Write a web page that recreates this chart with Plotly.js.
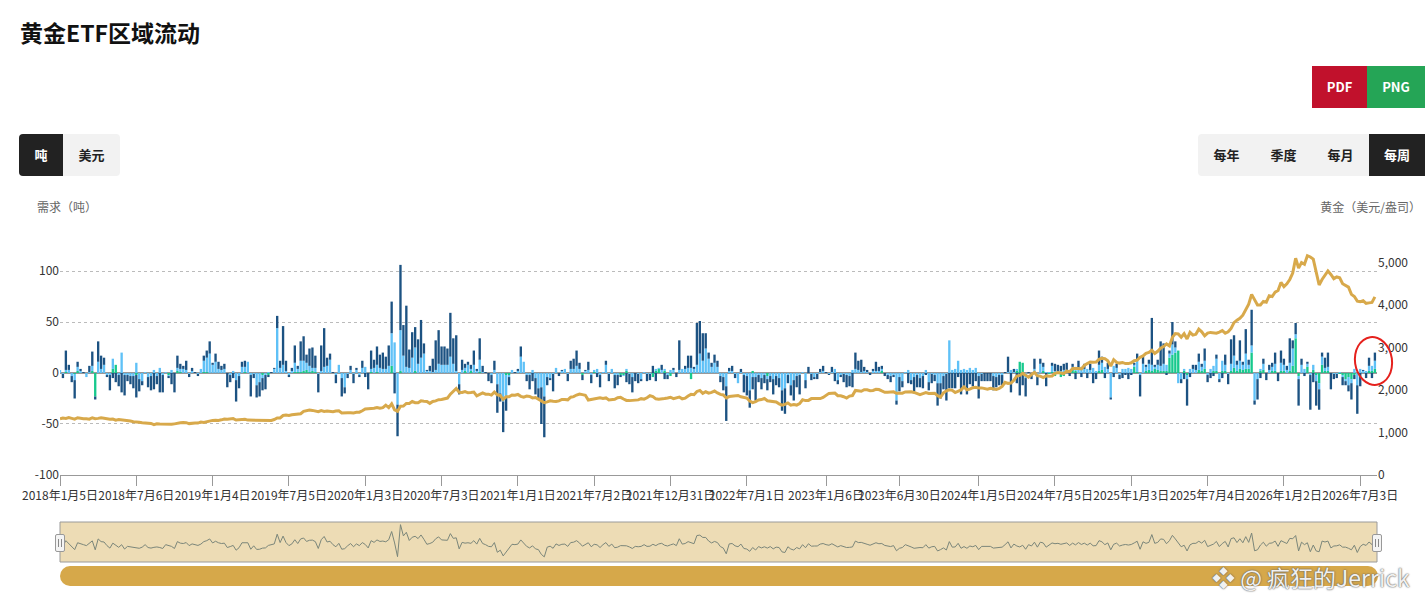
<!DOCTYPE html>
<html>
<head>
<meta charset="utf-8">
<script src="https://cdn.plot.ly/plotly-3.0.1.min.js"></script>
<style>
body{margin:0;background:#fff;font-family:"Noto Sans CJK SC","Noto Sans",sans-serif;}
#wrap{position:relative;width:1425px;height:603px;overflow:hidden;background:#fff;}
#chart{position:absolute;left:0;top:0;width:1425px;height:603px;}
.ov{position:absolute;}
.title{left:20px;top:15px;font-size:23px;font-weight:bold;color:#111;}
.btn{height:42px;line-height:42px;text-align:center;font-size:13px;font-weight:bold;}
.light{background:#f2f2f2;color:#222;}
.dark{background:#222;color:#fff;}
.axt{top:198px;font-size:12px;color:#666;}
.handle{width:8px;height:16px;background:#f4f4f4;border:1px solid #999;border-radius:2px;top:534px;}
.handle:before{content:"";position:absolute;left:2px;top:4px;width:1px;height:8px;background:#888;}
.handle:after{content:"";position:absolute;left:5px;top:4px;width:1px;height:8px;background:#888;}
.wm{left:1212px;top:560px;font-size:23px;color:rgba(255,255,255,0.92);text-shadow:0 0 2px #666,0 0 1px #555;white-space:nowrap;}
</style>
</head>
<body>
<div id="wrap">
<div id="chart"></div>
<div class="ov title">黄金ETF区域流动</div>
<div class="ov btn" style="left:1312px;top:66px;width:55px;background:#c1112c;color:#fff;">PDF</div>
<div class="ov btn" style="left:1367px;top:66px;width:58px;background:#25a556;color:#fff;">PNG</div>
<div class="ov btn dark" style="left:19px;top:134px;width:44px;border-radius:4px 0 0 4px;">吨</div>
<div class="ov btn light" style="left:63px;top:134px;width:57px;border-radius:0 4px 4px 0;">美元</div>
<div class="ov btn light" style="left:1198px;top:134px;width:57px;border-radius:4px 0 0 4px;">每年</div>
<div class="ov btn light" style="left:1255px;top:134px;width:57px;">季度</div>
<div class="ov btn light" style="left:1312px;top:134px;width:57px;">每月</div>
<div class="ov btn dark" style="left:1369px;top:134px;width:56px;">每周</div>
<div class="ov axt" style="left:37px;">需求（吨）</div>
<div class="ov axt" style="right:4px;">黄金（美元/盎司）</div>
<div class="ov" style="left:60px;top:566px;width:1318px;height:20px;background:#d6a84a;border-radius:10px;"></div>
<div class="ov handle" style="left:55px;"></div>
<div class="ov handle" style="left:1372px;"></div>
<div class="ov" style="left:1354px;top:336px;width:35px;height:46px;border:2.5px solid #e5211d;border-radius:50%;transform:rotate(-8deg);"></div>
<div class="ov wm">❖ @ 疯狂的Jerrick</div>
</div>
<script>
// weekly flows (tonnes), first week 2018-01-05
const firstWeek = '2018-01-05';
const naFlows = [
0,-4,19,5,-6,-18,5,2,1,0, 6,14,-3,20,13,7,-2,-15,-5,-9, -11,-19,-20,-6,-8,-12,-22,-12,-4,0, -10,-14,-16,-8,-19,-17,0,-2,-11,-19,
12,5,3,9,-3,3,1,-2,0,5, 7,12,2,8,7,4,5,-14,-7,-5, -21,-12,5,6,0,-21,-4,-12,-14,-12, -14,-2,1,1,12,7,38,10,-2,3,
17,3,19,24,8,17,20,12,-18,25, 38,8,6,1,-8,0,-18,-6,-4,4, -9,2,-2,7,-4,-16,18,8,18,13, 16,12,20,
31,-20,-31,64,30,60,18,25,20,24, 37,10,1,5,13,29,33,18,18,16, 43,25,35,-10,10,4,3,4,14,2, 21,6,1,-8,-8,9,-28,-8,-30,-14,
-8,0,1,2,10,0,-6,-14,-8,-16, -10,-36,-40,-8,-2,-17,0,-3,1,0, -7,8,10,15,6,-5,1,8,-8,0, -4,-12,0,4,-7,0,-13,-10,-2,0,
-9,-10,-15,-8,-9,-2,0,-7,-6,7, -8,0,5,-6,-4,0,2,-4,29,0, 3,12,12,2,41,32,27,15,6,4, 8,6,
-6,-13,-34,3,5,-4,0,3,-17,-19, -17,-12,-23,-7,-11,-8,-11,-6,-15,-9, -9,-20,-25,-8,-10,-20,-11,-19,0,-8, 6,-6,-2,-5,3,5,1,-1,5,-8,
-4,-2,-8,-12,-10,-14,16,9,12,4, 2,-2,2,9,4,3,-3,-4,-6,-2, -4,-14,-6,0,-10,-4,-14,-12,-9,-12, -2,-8,-9,-6,-22,-15,-13,-26,-15,-15,
-15,-4,-21,-13,-21,-11,-13,-8,-22,-7, -8,-8,-8,-14,-10,-10,-10,1,15,-19, 3,-10,-22,-12,-18,1,-6,10,-10,5, 4,-13,0,
3,7,6,5,6,7,-3,3,-6,8, -4,5,-5,6,-10,-6,14,6,-5,6, -2,-4,4,-4,-5,-2,-6,-2,2,6, -21,7,2,4,46,2,5,24,20,-2,
3,22,6,0,-4,-6,-26,-4,4,5, 8,3,12,-7,-5,-3,4,-3,-5,10, -10,24,20,4,20,3,24,5,35,-4, -20,-5,5,-7,5,4,11,-8,12,6,
4,24,8,11,-26,6,-3,2,-34,-9, -24,-20,4,10,14,-16,-5,-4,0,-8, -4,-6,-16,-4,-28,-13,1,-5,8,-5, 8
];
const euFlows = [
3,-1,2,3,-3,-6,4,2,0,-4, 1,5,0,11,4,8,-2,-2,10,0, -2,20,-2,-2,-3,-3,10,-6,-8,1, -4,-3,3,-3,5,-2,1,-1,3,0,
3,3,4,3,-1,2,0,-1,4,11, 14,19,8,11,4,3,4,0,-2,2, -7,-3,6,5,11,-2,-1,-12,-9,-3, -2,1,0,4,44,5,8,2,-2,2,
9,3,11,10,7,6,3,4,-1,2, 6,7,13,0,-2,8,-5,-14,-1,3, -1,3,-2,5,6,0,3,5,7,5, 4,4,7,
32,30,-31,40,17,6,5,15,23,9, 15,19,2,2,1,3,9,8,8,8, 16,9,2,-11,3,3,8,2,8,2, 12,1,0,0,-2,3,-11,-20,-28,-21,
-2,3,0,2,16,11,-2,-2,3,-5, -15,-14,-23,-4,-5,-1,5,0,2,4, -1,4,4,7,4,0,2,3,-2,2, 4,-2,1,8,-1,4,-2,-2,0,-1,
2,-1,-4,0,-1,-6,1,-1,-1,0, 2,1,3,2,-2,3,3,0,3,4, 4,5,5,4,8,19,12,24,14,6, 10,6,
-3,-4,-13,2,2,-1,-10,1,-2,-3, -17,-4,-4,-2,-5,-2,-3,-3,-6,-3, -5,-17,-15,-2,-12,-7,-3,-2,1,-7, 0,-1,-4,-1,1,2,0,-1,1,4,
-7,-2,-1,-2,-3,3,4,3,1,2, 1,0,2,2,2,2,0,-2,-3,-2, -27,-4,-8,1,3,-7,-4,-2,-5,-3, 3,-9,-1,-2,-10,-10,-3,-1,32,3,
4,12,3,4,3,5,3,5,-3,-1, 0,0,0,-3,-4,-2,-2,0,1,3, 1,2,0,0,-5,0,0,4,-2,9, 4,1,1,
6,2,2,2,3,3,0,1,4,4, 6,4,4,3,5,2,6,7,6,4, -24,7,5,-2,4,4,5,4,2,12, -2,9,4,6,6,2,5,5,7,6,
4,10,5,-10,-6,2,-4,4,4,3, 8,4,8,-2,4,5,12,-6,10,6, -1,7,12,6,8,5,15,4,7,-27, -6,2,6,0,3,4,7,0,8,6,
3,8,17,4,-3,8,4,3,-2,5, -6,-6,8,3,4,0,-1,-1,1,-2, -2,-8,-4,4,-12,4,2,2,5,5, 8
];
const asFlows = [
0,0,1,0,0,-1,2,0,0,0, 0,2,-23,0,0,0,0,0,4,8, 0,0,0,0,0,0,-2,0,0,0, 0,0,0,0,0,0,0,-2,0,0,
2,1,0,0,0,0,0,0,0,1, 1,0,0,0,0,0,0,0,0,0, 0,0,0,1,0,0,0,0,0,-2, 0,-2,0,0,0,0,0,0,0,0,
1,1,1,2,3,1,2,1,0,0, 0,0,0,0,0,0,0,0,0,0, 0,0,0,0,0,0,1,0,1,0, 0,0,0,
7,0,0,2,0,0,0,0,2,0, 0,0,0,0,0,0,0,0,0,0, 0,0,0,0,0,2,0,2,0,0, 1,0,0,0,0,0,0,0,0,-2,
-2,0,0,0,0,0,0,0,0,0, 0,0,0,0,0,0,0,0,0,0, 0,0,0,0,0,-2,0,0,0,1, 0,0,0,0,0,0,0,0,-2,-2,
2,0,0,0,0,0,0,0,0,-4, 2,4,0,2,0,-3,0,0,0,0, 0,0,-6,0,0,0,0,0,0,0, 0,0,
0,0,0,0,0,0,0,0,0,0, 0,2,0,0,0,0,-3,0,0,0, 0,0,0,0,0,0,0,0,0,0, 0,0,0,0,0,0,0,0,0,0,
0,0,0,0,0,0,0,0,0,0, 0,0,0,0,0,2,0,0,0,0, 0,0,0,0,0,0,0,0,0,0, 0,0,0,0,0,0,0,0,0,0,
0,0,0,0,0,0,0,0,0,0, 0,0,0,0,0,0,0,0,0,0, 0,2,11,10,0,0,0,0,0,0, 2,0,-1,
1,-3,0,-4,-3,0,0,5,2,0, 0,0,0,0,0,0,2,3,0,0, 0,0,0,0,0,0,0,0,6,1, 0,0,2,3,2,4,3,2,2,2,
15,18,20,22,0,2,-2,0,0,0, 3,2,4,0,0,2,2,0,2,2, 0,2,5,2,4,3,4,4,20,0, 0,2,3,0,0,2,2,0,2,2,
0,2,7,34,-3,0,0,6,0,3, -2,-10,8,2,2,0,0,0,-1,-2, -6,-4,-6,-2,0,0,0,0,2,2, 4
];
// gold price (USD/oz), weekly
const goldPrice = [
1320,1338,1332,1350,1333,1315,1347,1330,1322,1323,1313,1347,1325,1332,1345,1336,1323,1314,1318,1291,1303,1294,1298,1279,1270,1252,1255,1241,1231,1223,1214,1212,1184,1206,1201,1197,1194,1201,1192,1203,1222,1227,1233,1232,1209,1222,1223,1222,1248,1238,1257,1281,
1285,1289,1282,1298,1318,1314,1322,1328,1294,1298,1302,1313,1292,1291,1290,1275,1286,1280,1285,1277,1284,1305,1341,1341,1399,1409,1400,1415,1426,1419,1441,1497,1513,1527,1520,1507,1488,1517,1497,1505,1489,1490,1505,1512,1460,1468,1462,1464,1460,1476,1478,1511,
1552,1560,1557,1571,1589,1570,1584,1643,1585,1674,1530,1499,1618,1620,1683,1683,1729,1701,1702,1744,1735,1730,1685,1730,1743,1771,1775,1799,1810,1902,1975,2035,1944,1940,1964,1934,1941,1950,1862,1899,1930,1900,1902,1879,1951,1887,1871,1781,1839,1840,1881,1877,
1895,1850,1829,1856,1848,1814,1824,1784,1734,1700,1720,1745,1733,1729,1744,1777,1777,1768,1831,1844,1881,1905,1891,1877,1764,1781,1787,1808,1815,1802,1814,1763,1780,1781,1818,1827,1788,1754,1750,1761,1757,1767,1796,1783,1818,1865,1846,1792,1783,1783,1798,1811,
1829,
1797,1817,1835,1791,1807,1859,1898,1889,1966,1988,1921,1958,1925,1945,1975,1931,1897,1883,1811,1846,1853,1851,1871,1840,1827,1811,1742,1703,1727,1766,1775,1802,1747,1738,1712,1716,1675,1644,1660,1695,1644,1657,1645,1681,1771,1751,1755,1797,1797,1793,1798,1824,
1865,1920,1926,1928,1865,1865,1842,1811,1856,1868,1989,1978,1969,2007,2004,1983,1990,2017,2011,1977,1946,1948,1961,1957,1921,1919,1925,1955,1962,1959,1943,1914,1889,1915,1940,1919,1924,1925,1866,1833,1932,1981,2006,1993,1940,1981,2002,2072,2004,2019,2053,2063,
2045,2049,2029,2018,2039,2024,2013,2035,2083,2179,2156,2165,2230,2329,2344,2391,2338,2301,2360,2415,2334,2327,2294,2332,2322,2326,2391,2411,2400,2386,2443,2431,2507,2512,2503,2497,2577,2621,2658,2653,2656,2721,2747,2737,2685,2563,2712,2650,2633,2648,2622,2621,
2640,2690,2703,2770,2800,2861,2883,2936,2858,2910,2984,3023,3084,3037,3237,3327,3319,3240,3325,3200,3357,3290,3310,3432,3368,3274,3337,3355,3350,3337,3363,3398,3336,3371,3448,3586,3643,3685,3760,3886,4018,4250,4113,4002,4000,4085,4065,4218,4200,4300,4340,4530,
4430,4500,4600,4750,5100,4870,5000,4960,5160,5130,5080,4800,4470,4600,4700,4800,4720,4620,4660,4640,4500,4460,4420,4250,4200,4090,4080,4100,4040,4050,4060,4190
];
const tickDates = ['2018-01-05','2018-07-06','2019-01-04','2019-07-05','2020-01-03','2020-07-03','2021-01-01','2021-07-02','2021-12-31','2022-07-01','2023-01-06','2023-06-30','2024-01-05','2024-07-05','2025-01-03','2025-07-04','2026-01-02','2026-07-03'];
const tickLabels = ['2018年1月5日','2018年7月6日','2019年1月4日','2019年7月5日','2020年1月3日','2020年7月3日','2021年1月1日','2021年7月2日','2021年12月31日','2022年7月1日','2023年1月6日','2023年6月30日','2024年1月5日','2024年7月5日','2025年1月3日','2025年7月4日','2026年1月2日','2026年7月3日'];
const leftTicks = [-100,-50,0,50,100,150];
const leftTickText = ['-100','-50','0','50','100',''];
const rightTicks = [0,1000,2000,3000,4000,5000];

const n = naFlows.length;
const weeks = [];
const t0 = Date.parse(firstWeek + 'T00:00:00Z');
for (let i = 0; i < n; i++) {
  weeks.push(new Date(t0 + i * 7 * 86400000).toISOString().slice(0, 10));
}
const totals = weeks.map((_, i) => naFlows[i] + euFlows[i] + asFlows[i]);
const xRange = ['2018-01-05', '2026-08-12'];

const traces = [
  {type:'bar', name:'亚洲', x:weeks, y:asFlows, marker:{color:'#17c98d', line:{width:0}}, hoverinfo:'skip'},
  {type:'bar', name:'欧洲', x:weeks, y:euFlows, marker:{color:'#5fc1f7', line:{width:0}}, hoverinfo:'skip'},
  {type:'bar', name:'北美', x:weeks, y:naFlows, marker:{color:'#1c5282', line:{width:0}}, hoverinfo:'skip'},
  {type:'scatter', mode:'lines', name:'黄金', x:weeks, y:goldPrice, yaxis:'y2', line:{color:'#d8a94b', width:3}, hoverinfo:'skip'},
  {type:'scatter', mode:'lines', x:weeks, y:totals, xaxis:'x2', yaxis:'y3', line:{color:'#7b867a', width:1}, hoverinfo:'skip'}
];

const layout = {
  width:1425, height:603,
  margin:{l:60, r:48, t:220, b:18},
  paper_bgcolor:'rgba(0,0,0,0)', plot_bgcolor:'rgba(0,0,0,0)',
  barmode:'relative', bargap:0.2,
  showlegend:false,
  font:{family:'"Noto Sans CJK SC", "Noto Sans", sans-serif', size:12, color:'#333'},
  xaxis:{type:'date', range:xRange, domain:[0,1], anchor:'y', tickvals:tickDates, ticktext:tickLabels, tickangle:0,
    ticks:'outside', ticklen:10, tickcolor:'#999', showline:true, linecolor:'#999', linewidth:1, showgrid:false, zeroline:false,
    tickfont:{size:12, color:'#333'}},
  yaxis:{domain:[0.3014,1], range:[-100,150], tickvals:leftTicks, ticktext:leftTickText, showgrid:true, gridcolor:'#bbb', griddash:'dot',
    gridwidth:1, zeroline:true, zerolinecolor:'#999', zerolinewidth:2, ticks:'', tickfont:{size:12, color:'#333'}, fixedrange:true},
  yaxis2:{overlaying:'y', side:'right', range:[0,6000], tickvals:rightTicks, tickformat:',d', showgrid:false, zeroline:false,
    ticks:'', tickfont:{size:12, color:'#333'}},
  xaxis2:{anchor:'y3', domain:[0,1], type:'date', range:xRange, showticklabels:false, ticks:'', showgrid:false, zeroline:false, showline:false},
  yaxis3:{domain:[0.063,0.1726], range:[-90,120], showticklabels:false, ticks:'', showgrid:false, zeroline:false, showline:false},
  shapes:[
    {type:'rect', xref:'paper', yref:'paper', x0:0, x1:1, y0:0.063, y1:0.1726, fillcolor:'#eddcb5', line:{color:'#9a9a9a', width:1}, layer:'below'}
  ]
};
Plotly.newPlot('chart', traces, layout, {staticPlot:true, displayModeBar:false});
</script>
</body>
</html>
